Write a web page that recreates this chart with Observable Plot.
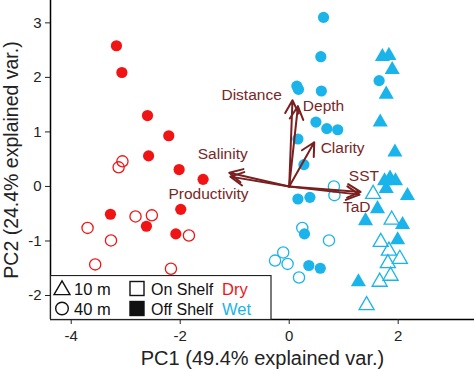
<!DOCTYPE html>
<html>
<head>
<meta charset="utf-8">
<script src="https://cdn.jsdelivr.net/npm/d3@7"></script>
<script src="https://cdn.jsdelivr.net/npm/@observablehq/plot@0.6"></script>
<style>
  body { margin: 0; background: #fff; }
  #wrap { position: relative; width: 474px; height: 371px; font-family: "Liberation Sans", Arial, sans-serif; }
  #legend { position: absolute; left: 50px; top: 275px; }
</style>
</head>
<body>
<div id="wrap"></div>
<script>
// ---- Data ----
const dryOffX = [-3.17, -3.07, -2.60, -2.21, -2.58, -2.02, -1.58, -1.99, -3.28, -2.62, -2.08];
const dryOffY = [2.58, 2.09, 1.30, 0.93, 0.56, 0.31, 0.13, -0.42, -0.51, -0.73, -0.87];
const dryOnX = [-3.06, -3.13, -2.82, -2.52, -3.70, -1.84, -3.27, -3.56, -2.17];
const dryOnY = [0.46, 0.35, -0.55, -0.53, -0.76, -0.90, -0.99, -1.43, -1.51];

const wet40OffX = [0.63, 0.58, 0.14, 0.17, 0.59, 0.49, 0.69, 0.89, 0.16, 0.27, 0.16, 0.38, 0.28, 0.36, 0.57, 1.65];
const wet40OffY = [3.10, 2.38, 1.84, 1.78, 1.75, 1.18, 1.06, 1.04, 0.87, 0.40, -0.23, -0.20, -0.87, -1.45, -1.50, 1.94];
const wet40OnX = [0.82, 0.83, 0.24, 0.73, -0.11, -0.26, -0.03, 0.18];
const wet40OnY = [0.00, -0.16, -0.76, -0.99, -1.21, -1.36, -1.42, -1.67];

const wet10OffX = [1.71, 1.83, 1.89, 1.78, 1.67, 1.94, 1.75, 1.85, 1.95, 1.78, 2.17, 1.62, 1.40, 2.08, 1.99, 1.27];
const wet10OffY = [2.38, 2.40, 2.14, 1.69, 1.18, 0.63, 0.10, 0.15, 0.10, -0.04, -0.17, -0.41, -0.63, -0.70, -0.98, -1.75];
const wet10OnX = [1.54, 1.88, 1.68, 1.83, 2.03, 1.81, 1.86, 1.66, 1.42];
const wet10OnY = [-0.14, -0.61, -1.02, -1.18, -1.33, -1.41, -1.64, -1.75, -2.18];

const loadNames = ["Distance", "Depth", "Clarity", "Salinity", "Productivity", "SST", "TaD"];
const loadX = [0.06, 0.16, 0.46, -1.10, -1.08, 1.31, 1.29];
const loadY = [1.58, 1.47, 0.81, 0.25, 0.18, -0.10, -0.15];
const labelX = [-0.69, 0.63, 0.98, -1.22, -1.48, 1.37, 1.24];
const labelY = [1.67, 1.47, 0.70, 0.60, -0.13, 0.20, -0.38];

const xDomain = [-4.38, 3.40];
const yDomain = [-2.44, 3.41];
const xTicks = [-4, -2, 0, 2];
const yTicks = [-2, -1, 0, 1, 2, 3];
const xTitle = "PC1 (49.4% explained var.)";
const yTitle = "PC2 (24.4% explained var.)";

const RED = "#f01414";
const BLUE = "#1ab4ea";
const ARROW = "#7a1f1f";
const LABEL = "#7a2626";

// ---- Build tables ----
function rows(xs, ys, season, depth, shelf) {
  return xs.map((x, i) => ({x, y: ys[i], season, depth, shelf}));
}
const pts = [
  ...rows(dryOffX, dryOffY, "Dry", "40 m", "Off"),
  ...rows(dryOnX, dryOnY, "Dry", "40 m", "On"),
  ...rows(wet40OffX, wet40OffY, "Wet", "40 m", "Off"),
  ...rows(wet40OnX, wet40OnY, "Wet", "40 m", "On"),
  ...rows(wet10OffX, wet10OffY, "Wet", "10 m", "Off"),
  ...rows(wet10OnX, wet10OnY, "Wet", "10 m", "On")
];
const loads = loadNames.map((n, i) => ({n, x: loadX[i], y: loadY[i], lx: labelX[i], ly: labelY[i]}));

const col = d => d.season === "Dry" ? RED : BLUE;

const chart = Plot.plot({
  width: 474,
  height: 371,
  marginLeft: 50,
  marginRight: 0,
  marginTop: 0,
  marginBottom: 52,
  style: {fontFamily: "Liberation Sans, Arial, sans-serif", background: "#fff"},
  x: {domain: xDomain},
  y: {domain: yDomain},
  color: {type: "identity"},
  symbol: {domain: ["10 m", "40 m"], range: ["triangle", "circle"]},
  marks: [
    Plot.dot(pts.filter(d => d.shelf === "On"), {
      x: "x", y: "y", symbol: "depth", r: 5.6, fill: "none", stroke: col, strokeWidth: 1.3
    }),
    Plot.dot(pts.filter(d => d.shelf === "Off"), {
      x: "x", y: "y", symbol: "depth", r: 5.6, fill: col, stroke: "none"
    }),
    Plot.arrow(loads, {
      x1: () => 0, y1: () => 0, x2: "x", y2: "y",
      stroke: ARROW, strokeWidth: 2, headLength: 11, headAngle: 55
    }),
    Plot.text(loads, {
      x: "lx", y: "ly", text: "n", fill: LABEL, fontSize: 15.5
    }),
    Plot.ruleX([xDomain[0]], {stroke: "#000", strokeWidth: 1.5}),
    Plot.ruleY([yDomain[0]], {stroke: "#000", strokeWidth: 1.5}),
    Plot.axisX({ticks: xTicks, tickSize: 5, tickPadding: 6, fontSize: 15, label: null,
      tickFormat: d => String(d), color: "#222", stroke: "#222"}),
    Plot.axisY({ticks: yTicks, tickSize: 5, tickPadding: 4, fontSize: 15, label: null,
      tickFormat: d => String(d), color: "#222", stroke: "#222"}),
    Plot.text([xTitle], {frameAnchor: "bottom", lineAnchor: "middle", textAnchor: "middle", dy: 39,
      fontSize: 20, fill: "#222", text: d => d}),
    Plot.text([yTitle], {frameAnchor: "left", lineAnchor: "middle", textAnchor: "middle", dx: -39,
      rotate: -90, fontSize: 19.5, fill: "#222", text: d => d})
  ]
});

const wrap = document.getElementById("wrap");
wrap.appendChild(chart);

// ---- Legend (inside the plot, bottom-left) ----
const legendItems = [
  {kind: "sym", shape: "triangle", label: "10 m", col: 0, row: 0},
  {kind: "sym", shape: "circle", label: "40 m", col: 0, row: 1},
  {kind: "sq", filled: false, label: "On Shelf", col: 1, row: 0},
  {kind: "sq", filled: true, label: "Off Shelf", col: 1, row: 1},
  {kind: "txt", color: RED, label: "Dry", col: 2, row: 0},
  {kind: "txt", color: BLUE, label: "Wet", col: 2, row: 1}
];
const colX = [12, 87, 172];
const rowY = [13.5, 33.5];
const lg = d3.create("svg").attr("id", "legend").attr("width", 222).attr("height", 45)
  .style("font-family", "Liberation Sans, Arial, sans-serif");
lg.append("rect").attr("x", 0.5).attr("y", 0.5).attr("width", 220.5).attr("height", 44)
  .attr("fill", "#fff").attr("stroke", "#222").attr("stroke-width", 1.2);
for (const it of legendItems) {
  const cx = colX[it.col], cy = rowY[it.row];
  if (it.kind === "sym") {
    const sym = it.shape === "triangle" ? d3.symbolTriangle : d3.symbolCircle;
    lg.append("path").attr("d", d3.symbol(sym, it.shape === "triangle" ? 110 : 125)())
      .attr("transform", `translate(${cx},${cy + (it.shape === "triangle" ? 1.5 : 0)})`)
      .attr("fill", "none").attr("stroke", "#111").attr("stroke-width", 1.4);
    lg.append("text").attr("x", cx + 12).attr("y", cy + 6).attr("font-size", 16.5).attr("fill", "#111").text(it.label);
  } else if (it.kind === "sq") {
    lg.append("rect").attr("x", cx - 7).attr("y", cy - 7).attr("width", 14).attr("height", 14)
      .attr("fill", it.filled ? "#111" : "none").attr("stroke", "#111").attr("stroke-width", 1.4);
    lg.append("text").attr("x", cx + 14).attr("y", cy + 6).attr("font-size", 16).attr("fill", "#111").text(it.label);
  } else {
    lg.append("text").attr("x", cx).attr("y", cy + 6).attr("font-size", 16.5).attr("fill", it.color).text(it.label);
  }
}
wrap.appendChild(lg.node());
</script>
</body>
</html>
